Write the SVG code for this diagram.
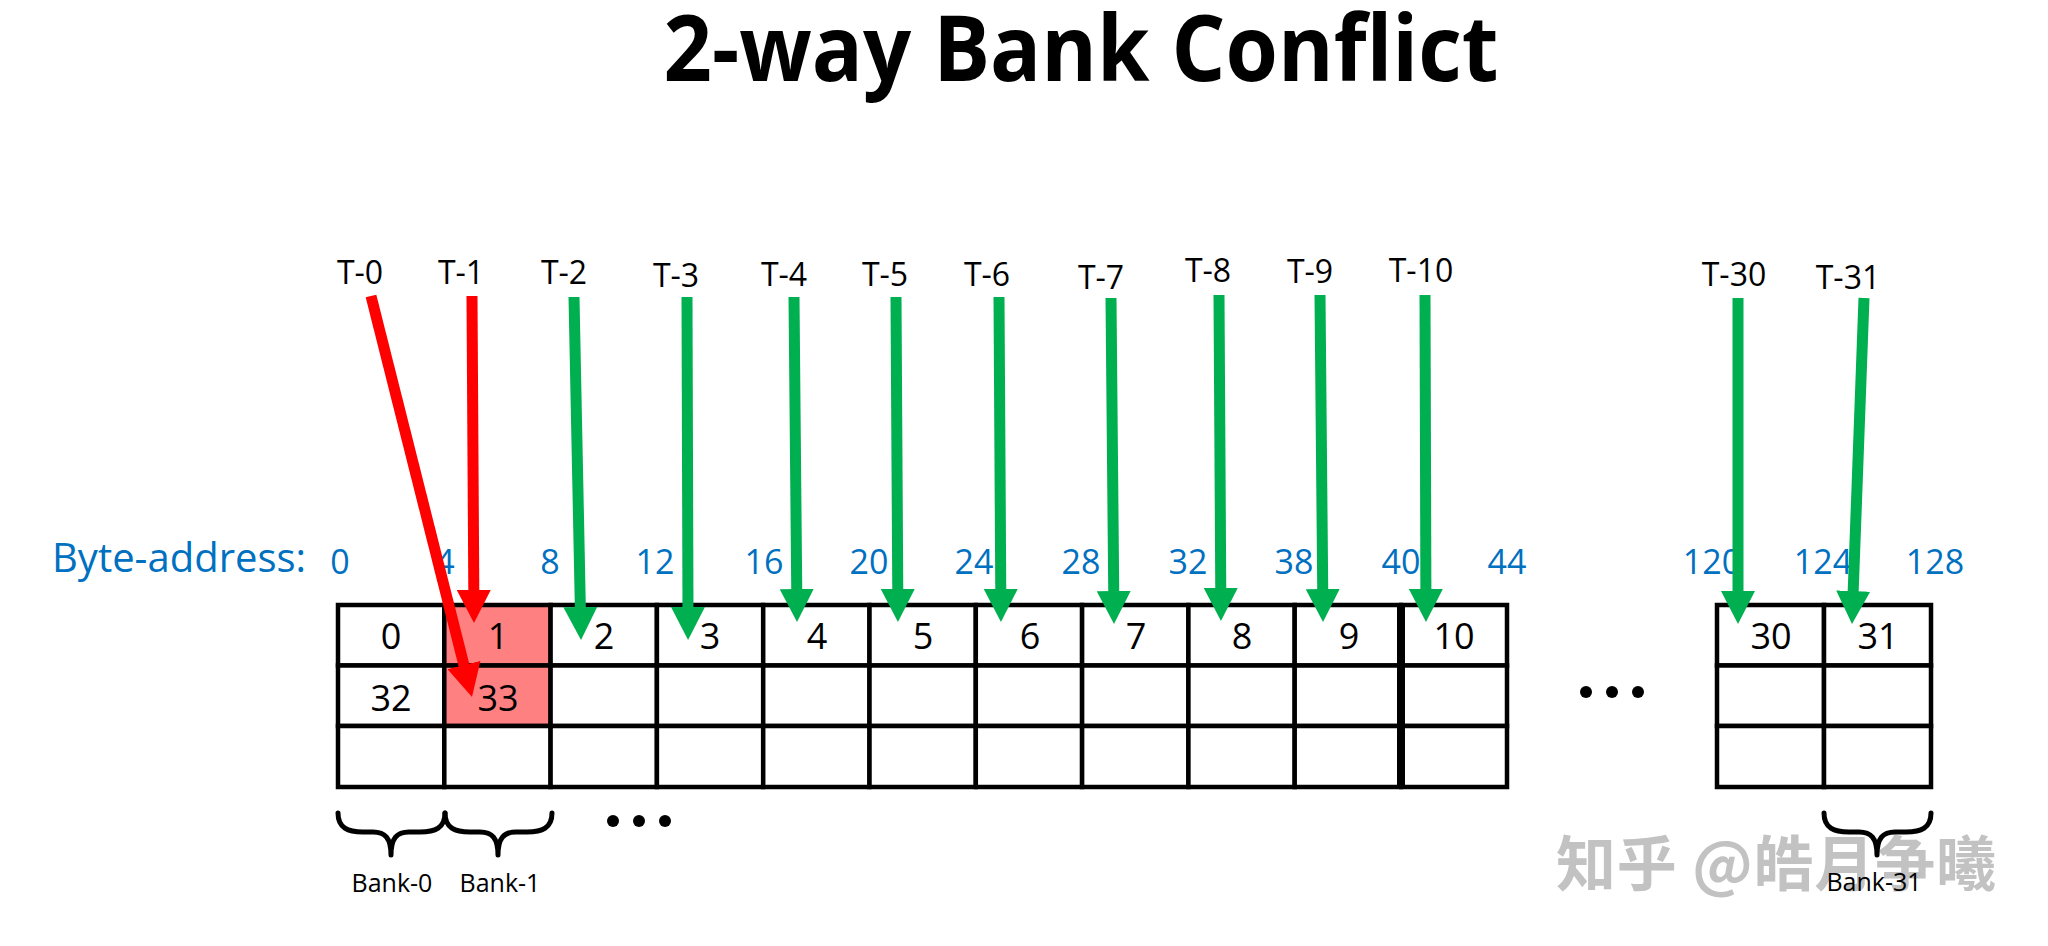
<svg xmlns="http://www.w3.org/2000/svg" width="2048" height="946" viewBox="0 0 2048 946">
<style>
.title{font-family:"Open Sans","Liberation Sans",sans-serif;font-weight:700;font-size:92px;fill:#000}
.tl{font-family:"Open Sans","Liberation Sans",sans-serif;font-size:32px;fill:#000;text-anchor:middle}
.addr{font-family:"Open Sans","Liberation Sans",sans-serif;font-size:34px;fill:#0070C0;text-anchor:middle}
.addrh{font-family:"Open Sans","Liberation Sans",sans-serif;font-size:40px;fill:#0070C0}
.cn{font-family:"Open Sans","Liberation Sans",sans-serif;font-size:36px;fill:#000;text-anchor:middle}
.bk{font-family:"Open Sans","Liberation Sans",sans-serif;font-size:25px;fill:#000;text-anchor:middle}
.cell{fill:#fff;stroke:#000;stroke-width:4.5}
.hot{fill:#FF8080;stroke:#000;stroke-width:4.5}
.brace{fill:none;stroke:#000;stroke-width:5;stroke-linecap:round;stroke-linejoin:round}
.g{stroke:#00B050;stroke-width:11;fill:none}
.r{stroke:#FF0000;stroke-width:11;fill:none}
.wm{font-family:"Noto Sans CJK SC",sans-serif;font-weight:700;font-size:60px;fill:#C2C2C2}
</style>
<defs>
<marker id="ag" markerUnits="userSpaceOnUse" markerWidth="34" markerHeight="34" viewBox="0 0 34 34" refX="8" refY="17" orient="auto"><path d="M0,0 L33,17 L0,34 z" fill="#00B050"/></marker>
<marker id="ar" markerUnits="userSpaceOnUse" markerWidth="34" markerHeight="34" viewBox="0 0 34 34" refX="8" refY="17" orient="auto"><path d="M0,0 L33,17 L0,34 z" fill="#FF0000"/></marker>
</defs>
<rect width="2048" height="946" fill="#fff"/>
<g id="title"><text class="title" x="1081" y="81" text-anchor="middle" textLength="835" lengthAdjust="spacingAndGlyphs">2-way Bank Conflict</text></g>

<g id="threads">
<g id="t0"><text class="tl" x="360" y="284">T-0</text></g>
<g id="t1"><text class="tl" x="461" y="284">T-1</text></g>
<g id="t2"><text class="tl" x="564" y="284">T-2</text></g>
<g id="t3"><text class="tl" x="676" y="287">T-3</text></g>
<g id="t4"><text class="tl" x="784" y="286">T-4</text></g>
<g id="t5"><text class="tl" x="885" y="286">T-5</text></g>
<g id="t6"><text class="tl" x="987" y="286">T-6</text></g>
<g id="t7"><text class="tl" x="1101" y="289">T-7</text></g>
<g id="t8"><text class="tl" x="1208" y="282">T-8</text></g>
<g id="t9"><text class="tl" x="1310" y="283">T-9</text></g>
<g id="t10"><text class="tl" x="1421" y="282">T-10</text></g>
<g id="t30"><text class="tl" x="1734" y="286">T-30</text></g>
<g id="t31"><text class="tl" x="1848" y="289">T-31</text></g>
</g>

<g id="addresses">
<text class="addrh" x="52" y="572">Byte-address:</text>
<text class="addr" x="340" y="574">0</text>
<text class="addr" x="445" y="574">4</text>
<text class="addr" x="550" y="574">8</text>
<text class="addr" x="655" y="574">12</text>
<text class="addr" x="764" y="574">16</text>
<text class="addr" x="869" y="574">20</text>
<text class="addr" x="974" y="574">24</text>
<text class="addr" x="1081" y="574">28</text>
<text class="addr" x="1188" y="574">32</text>
<text class="addr" x="1294" y="574">38</text>
<text class="addr" x="1401" y="574">40</text>
<text class="addr" x="1507" y="574">44</text>
<text class="addr" x="1712" y="574">120</text>
<text class="addr" x="1823" y="574">124</text>
<text class="addr" x="1935" y="574">128</text>
</g>

<g id="bank-0"><rect class="cell" x="338" y="605" width="106.3" height="60.5"/><rect class="cell" x="338" y="665.5" width="106.3" height="60.5"/><rect class="cell" x="338" y="726" width="106.3" height="61"/><text class="cn" x="391" y="649">0</text><text class="cn" x="391" y="711">32</text></g>
<g id="bank-1"><rect class="hot" x="444.3" y="605" width="106.3" height="60.5"/><rect class="hot" x="444.3" y="665.5" width="106.3" height="60.5"/><rect class="cell" x="444.3" y="726" width="106.3" height="61"/><text class="cn" x="498" y="649">1</text><text class="cn" x="498" y="711">33</text></g>
<g id="bank-2"><rect class="cell" x="550.6" y="605" width="106.3" height="60.5"/><rect class="cell" x="550.6" y="665.5" width="106.3" height="60.5"/><rect class="cell" x="550.6" y="726" width="106.3" height="61"/><text class="cn" x="604" y="649">2</text></g>
<g id="bank-3"><rect class="cell" x="656.9" y="605" width="106.3" height="60.5"/><rect class="cell" x="656.9" y="665.5" width="106.3" height="60.5"/><rect class="cell" x="656.9" y="726" width="106.3" height="61"/><text class="cn" x="710" y="649">3</text></g>
<g id="bank-4"><rect class="cell" x="763.2" y="605" width="106.3" height="60.5"/><rect class="cell" x="763.2" y="665.5" width="106.3" height="60.5"/><rect class="cell" x="763.2" y="726" width="106.3" height="61"/><text class="cn" x="817" y="649">4</text></g>
<g id="bank-5"><rect class="cell" x="869.5" y="605" width="106.3" height="60.5"/><rect class="cell" x="869.5" y="665.5" width="106.3" height="60.5"/><rect class="cell" x="869.5" y="726" width="106.3" height="61"/><text class="cn" x="923" y="649">5</text></g>
<g id="bank-6"><rect class="cell" x="975.8" y="605" width="106.3" height="60.5"/><rect class="cell" x="975.8" y="665.5" width="106.3" height="60.5"/><rect class="cell" x="975.8" y="726" width="106.3" height="61"/><text class="cn" x="1030" y="649">6</text></g>
<g id="bank-7"><rect class="cell" x="1082.1" y="605" width="106.3" height="60.5"/><rect class="cell" x="1082.1" y="665.5" width="106.3" height="60.5"/><rect class="cell" x="1082.1" y="726" width="106.3" height="61"/><text class="cn" x="1136" y="649">7</text></g>
<g id="bank-8"><rect class="cell" x="1188.4" y="605" width="106.3" height="60.5"/><rect class="cell" x="1188.4" y="665.5" width="106.3" height="60.5"/><rect class="cell" x="1188.4" y="726" width="106.3" height="61"/><text class="cn" x="1242" y="649">8</text></g>
<g id="bank-9"><rect class="cell" x="1294.7" y="605" width="106.3" height="60.5"/><rect class="cell" x="1294.7" y="665.5" width="106.3" height="60.5"/><rect class="cell" x="1294.7" y="726" width="106.3" height="61"/><text class="cn" x="1349" y="649">9</text></g>
<g id="bank-10"><rect class="cell" x="1401" y="605" width="106" height="60.5"/><rect class="cell" x="1401" y="665.5" width="106" height="60.5"/><rect class="cell" x="1401" y="726" width="106" height="61"/><line x1="1401" y1="603" x2="1401" y2="789" stroke="#000" stroke-width="8"/><text class="cn" x="1454" y="649">10</text></g>
<g id="bank-30"><rect class="cell" x="1717" y="605" width="107" height="60.5"/><rect class="cell" x="1717" y="665.5" width="107" height="60.5"/><rect class="cell" x="1717" y="726" width="107" height="61"/><text class="cn" x="1771" y="649">30</text></g>
<g id="bank-31"><rect class="cell" x="1824" y="605" width="107" height="60.5"/><rect class="cell" x="1824" y="665.5" width="107" height="60.5"/><rect class="cell" x="1824" y="726" width="107" height="61"/><text class="cn" x="1878" y="649">31</text></g>

<g id="ellipsis">
<circle cx="1586" cy="692" r="6"/><circle cx="1612" cy="692" r="6"/><circle cx="1638" cy="692" r="6"/>
<circle cx="613" cy="821" r="6"/><circle cx="639" cy="821" r="6"/><circle cx="665" cy="821" r="6"/>
</g>

<g id="watermark"><text class="wm" x="1556" y="886" textLength="440" lengthAdjust="spacing">知乎 @皓月争曦</text></g>

<g id="bank-labels">
<path class="brace" d="M338,813 C338,828 348,832 363,832 L373,832 C385,832 391,838 391,855 C391,838 397,832 409,832 L420,832 C435,832 445,828 445,813"/>
<path class="brace" d="M445,813 C445,828 455,832 470,832 L480,832 C492,832 498,838 498,855 C498,838 504,832 516,832 L527,832 C542,832 552,828 552,813"/>
<path class="brace" d="M1824,813 C1824,828 1834,832 1849,832 L1859,832 C1871,832 1877,838 1877,855 C1877,838 1883,832 1895,832 L1906,832 C1921,832 1931,828 1931,813"/>
<text class="bk" x="392" y="892">Bank-0</text>
<text class="bk" x="500" y="892">Bank-1</text>
<text class="bk" x="1874" y="891">Bank-31</text>
</g>

<g id="connectors">
<line class="g" x1="574" y1="297" x2="580.5" y2="615" marker-end="url(#ag)"/>
<line class="g" x1="687" y1="297" x2="688" y2="615" marker-end="url(#ag)"/>
<line class="g" x1="794" y1="297" x2="796.8" y2="597" marker-end="url(#ag)"/>
<line class="g" x1="896" y1="297" x2="897.8" y2="597" marker-end="url(#ag)"/>
<line class="g" x1="999" y1="297" x2="1000.8" y2="597" marker-end="url(#ag)"/>
<line class="g" x1="1111" y1="298" x2="1113.8" y2="599" marker-end="url(#ag)"/>
<line class="g" x1="1219" y1="295" x2="1220.8" y2="596" marker-end="url(#ag)"/>
<line class="g" x1="1320" y1="295" x2="1322.8" y2="597" marker-end="url(#ag)"/>
<line class="g" x1="1425" y1="295" x2="1425.9" y2="597" marker-end="url(#ag)"/>
<line class="g" x1="1738" y1="298" x2="1738" y2="599" marker-end="url(#ag)"/>
<line class="g" x1="1864" y1="298" x2="1852.9" y2="599" marker-end="url(#ag)"/>
<line class="r" x1="472" y1="296" x2="473.85" y2="598" marker-end="url(#ar)"/>
<line class="r" x1="371" y1="296" x2="465.9" y2="672.8" marker-end="url(#ar)"/>
</g>
</svg>
